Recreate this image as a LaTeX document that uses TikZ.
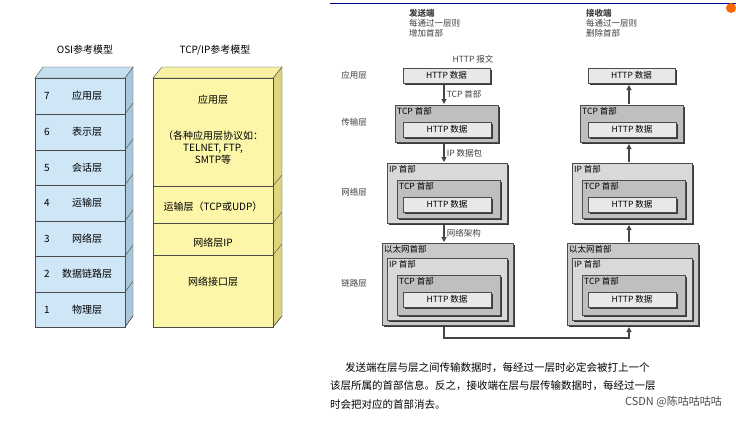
\documentclass[tikz,border=0pt]{standalone}
\usepackage{fontspec}
\setmainfont{Noto Sans CJK SC}
\usetikzlibrary{shadows,arrows.meta}
\definecolor{osif}{HTML}{CFE6F7}
\definecolor{osis}{HTML}{A9C6DA}
\definecolor{tcpf}{HTML}{FBF6A8}
\definecolor{tcps}{HTML}{DCD57E}
\tikzset{
 pk/.style={draw=gray!60!black,line width=0.4pt,inner sep=0,outer sep=0,anchor=north west,
   drop shadow={shadow xshift=1.6pt,shadow yshift=-1.6pt,fill=gray!45!black,opacity=1}},
 lay/.style={draw=black!70,line width=0.5pt,anchor=north west,inner sep=0},
 txt/.style={font=\fontsize{8.5}{10}\selectfont,inner sep=1pt},
 ltxt/.style={txt,anchor=north west},
 big/.style={font=\fontsize{10}{12}\selectfont,inner sep=1pt},
 arr/.style={-{Triangle[length=5pt,width=5pt]},line width=1.6pt,draw=gray!55!black},
}
\newcommand{\pkbox}[6]{\node[pk,fill=#6,minimum width={(#4-#2)*1pt},minimum height={(#5-#3)*1pt}] (#1) at (#2,#3) {};}
\begin{document}
\begin{tikzpicture}[x=1pt,y=-1pt]
\useasboundingbox[fill=white] (0,0) rectangle (736,421);
\draw[blue!60!black,line width=1pt] (330,3) -- (736,3);
\fill[orange!80!red] (731,8) circle (5);
% OSI
\node[big] (osit) at (85,50) {OSI参考模型};
\fill[osis,draw=black!70] (125,78) -- (133,67) -- (133,316) -- (125,327) -- cycle;
\fill[osif!80!osis,draw=black!70] (35,78) -- (43,67) -- (133,67) -- (125,78) -- cycle;
\foreach \nn/\lt/\ya/\yb in {7/应用层/78/114,6/表示层/114/150,5/会话层/150/185,4/运输层/185/221,3/网络层/221/256,2/数据链路层/256/292,1/物理层/292/327}{
 \node[lay,fill=osif,minimum width=90pt,minimum height={(\yb-\ya)*1pt}] (o\nn) at (35,\ya) {};
 \node[big] (on\nn) at (47,{(\ya+\yb)/2}) {\nn};
 \node[big] (ot\nn) at (87,{(\ya+\yb)/2}) {\lt};
 \draw[black!70] (125,\yb) -- (133,\yb-11);
}
% TCP/IP
\node[big] (tcpt) at (215,50) {TCP/IP参考模型};
\fill[tcps,draw=black!70] (273,78) -- (282,67) -- (282,316) -- (273,327) -- cycle;
\fill[tcpf!85!tcps,draw=black!70] (153,78) -- (162,67) -- (282,67) -- (273,78) -- cycle;
\foreach \nn/\ya/\yb in {1/78/186,2/186/223,3/223/255,4/255/327}{
 \node[lay,fill=tcpf,minimum width=120pt,minimum height={(\yb-\ya)*1pt}] (t\nn) at (153,\ya) {};
 \draw[black!70] (273,\yb) -- (282,\yb-11);
}
\node[big] (ta) at (213,100) {应用层};
\node[big,align=center] (tb) at (213,148) {（各种应用层协议如：\\TELNET, FTP,\\SMTP等};
\node[big] (tc) at (213,207) {运输层（TCP或UDP）};
\node[big] (td) at (213,243) {网络层IP};
\node[big] (te) at (213,282) {网络接口层};
% headers
\node[ltxt,align=left,text=black!75] (snd) at (408,8) {\textbf{发送端}\\每通过一层则\\增加首部};
\node[ltxt,align=left,text=black!75] (rcv) at (585,8) {\textbf{接收端}\\每通过一层则\\删除首部};
\node[txt,text=black!75] (l1) at (354,75) {应用层};
\node[txt,text=black!75] (l2) at (354,122) {传输层};
\node[txt,text=black!75] (l3) at (354,192) {网络层};
\node[txt,text=black!75] (l4) at (354,283) {链路层};
\node[txt,text=black!75] (hb) at (473,59) {HTTP 报文};
% sender
\pkbox{sA}{403}{68}{490}{83}{gray!18}
\node[txt] at (sA) {HTTP 数据};
\pkbox{sT}{395}{105}{498}{142}{gray!50}
\node[ltxt] at (396,106) {TCP 首部};
\pkbox{sTh}{403}{122}{491}{137}{gray!18}
\node[txt] at (sTh) {HTTP 数据};
\pkbox{sI}{387}{163}{507}{223}{gray!30}
\node[ltxt] at (388,164) {IP 首部};
\pkbox{sIt}{397}{180}{500}{218}{gray!50}
\node[ltxt] at (398,181) {TCP 首部};
\pkbox{sIh}{403}{197}{491}{212}{gray!18}
\node[txt] at (sIh) {HTTP 数据};
\pkbox{sE}{382}{243}{513}{325}{gray!42}
\node[ltxt] at (383,244) {以太网首部};
\pkbox{sEi}{387}{258}{507}{320}{gray!30}
\node[ltxt] at (388,259) {IP 首部};
\pkbox{sEt}{397}{275}{500}{315}{gray!50}
\node[ltxt] at (398,276) {TCP 首部};
\pkbox{sEh}{403}{292}{491}{307}{gray!18}
\node[txt] at (sEh) {HTTP 数据};
% receiver
\pkbox{rA}{588}{68}{675}{83}{gray!18}
\node[txt] at (rA) {HTTP 数据};
\pkbox{rT}{580}{105}{683}{142}{gray!50}
\node[ltxt] at (581,106) {TCP 首部};
\pkbox{rTh}{588}{122}{676}{137}{gray!18}
\node[txt] at (rTh) {HTTP 数据};
\pkbox{rI}{572}{163}{692}{223}{gray!30}
\node[ltxt] at (573,164) {IP 首部};
\pkbox{rIt}{582}{180}{685}{218}{gray!50}
\node[ltxt] at (583,181) {TCP 首部};
\pkbox{rIh}{588}{197}{676}{212}{gray!18}
\node[txt] at (rIh) {HTTP 数据};
\pkbox{rE}{567}{243}{698}{325}{gray!42}
\node[ltxt] at (568,244) {以太网首部};
\pkbox{rEi}{572}{258}{692}{320}{gray!30}
\node[ltxt] at (573,259) {IP 首部};
\pkbox{rEt}{582}{275}{685}{315}{gray!50}
\node[ltxt] at (583,276) {TCP 首部};
\pkbox{rEh}{588}{292}{676}{307}{gray!18}
\node[txt] at (rEh) {HTTP 数据};
% arrows sender
\draw[arr] (444,85) -- (444,104) node[midway,right=1pt,txt,text=black!75] {TCP 首部};
\draw[arr] (444,144) -- (444,162) node[midway,right=1pt,txt,text=black!75] {IP 数据包};
\draw[arr] (444,225) -- (444,242) node[midway,right=1pt,txt,text=black!75] {网络架构};
% arrows receiver
\draw[arr] (629,104) -- (629,85);
\draw[arr] (629,162) -- (629,144);
\draw[arr] (629,242) -- (629,225);
\coordinate (b1) at (444,338);
\coordinate (b2) at (629,338);
\draw[line width=1.6pt,draw=gray!55!black] (444,327) -- (b1) -- (b2) -- (629,333);
\draw[arr] (629,338) -- (629,327);
% caption
\node[anchor=west,font=\fontsize{10.5}{12}\selectfont,inner sep=0] (c1) at (345,368) {发送端在层与层之间传输数据时，每经过一层时必定会被打上一个};
\node[anchor=west,font=\fontsize{10.5}{12}\selectfont,inner sep=0] (c2) at (330,386) {该层所属的首部信息。反之，接收端在层与层传输数据时，每经过一层};
\node[anchor=west,font=\fontsize{10.5}{12}\selectfont,inner sep=0] (c3) at (330,404) {时会把对应的首部消去。};
\node[anchor=east,font=\fontsize{11}{12}\selectfont,inner sep=0,text=black!70] (wm) at (722,402) {CSDN @陈咕咕咕咕};
\end{tikzpicture}
\end{document}
